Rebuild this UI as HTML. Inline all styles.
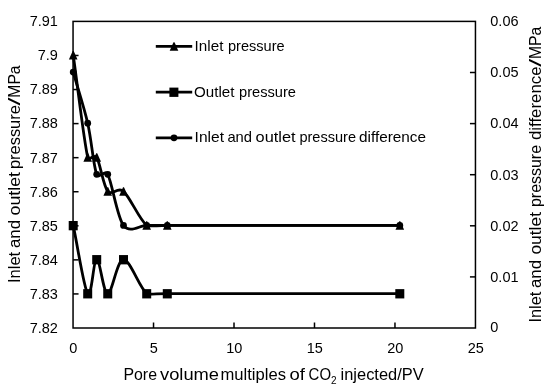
<!DOCTYPE html><html><head><meta charset="utf-8"><title>chart</title><style>html,body{margin:0;padding:0;background:#fff}svg{display:block}text{font-family:"Liberation Sans",sans-serif;fill:#000}</style></head><body>
<svg width="550" height="392" viewBox="0 0 550 392">
<rect width="100%" height="100%" fill="#fff"/>
<g stroke="#000" stroke-width="1.5" fill="none">
<rect x="73.05" y="21.40" width="402.40" height="306.60"/>
<line x1="73.05" y1="293.93" x2="78.55" y2="293.93"/>
<line x1="73.05" y1="259.87" x2="78.55" y2="259.87"/>
<line x1="73.05" y1="225.80" x2="78.55" y2="225.80"/>
<line x1="73.05" y1="191.73" x2="78.55" y2="191.73"/>
<line x1="73.05" y1="157.67" x2="78.55" y2="157.67"/>
<line x1="73.05" y1="123.60" x2="78.55" y2="123.60"/>
<line x1="73.05" y1="89.53" x2="78.55" y2="89.53"/>
<line x1="73.05" y1="55.47" x2="78.55" y2="55.47"/>
<line x1="475.45" y1="276.90" x2="469.95" y2="276.90"/>
<line x1="475.45" y1="225.80" x2="469.95" y2="225.80"/>
<line x1="475.45" y1="174.70" x2="469.95" y2="174.70"/>
<line x1="475.45" y1="123.60" x2="469.95" y2="123.60"/>
<line x1="475.45" y1="72.50" x2="469.95" y2="72.50"/>
<line x1="153.53" y1="328.00" x2="153.53" y2="322.50"/>
<line x1="234.01" y1="328.00" x2="234.01" y2="322.50"/>
<line x1="314.49" y1="328.00" x2="314.49" y2="322.50"/>
<line x1="394.97" y1="328.00" x2="394.97" y2="322.50"/>
</g>
<text x="57.9" y="332.8" font-size="14.5" text-anchor="end">7.82</text>
<text x="57.9" y="298.7" font-size="14.5" text-anchor="end">7.83</text>
<text x="57.9" y="264.7" font-size="14.5" text-anchor="end">7.84</text>
<text x="57.9" y="230.6" font-size="14.5" text-anchor="end">7.85</text>
<text x="57.9" y="196.5" font-size="14.5" text-anchor="end">7.86</text>
<text x="57.9" y="162.5" font-size="14.5" text-anchor="end">7.87</text>
<text x="57.9" y="128.4" font-size="14.5" text-anchor="end">7.88</text>
<text x="57.9" y="94.3" font-size="14.5" text-anchor="end">7.89</text>
<text x="57.9" y="60.3" font-size="14.5" text-anchor="end">7.9</text>
<text x="57.9" y="26.2" font-size="14.5" text-anchor="end">7.91</text>
<text x="490.3" y="332.3" font-size="14.5">0</text>
<text x="490.3" y="281.7" font-size="14.5">0.01</text>
<text x="490.3" y="230.6" font-size="14.5">0.02</text>
<text x="490.3" y="179.5" font-size="14.5">0.03</text>
<text x="490.3" y="128.4" font-size="14.5">0.04</text>
<text x="490.3" y="77.3" font-size="14.5">0.05</text>
<text x="490.3" y="26.2" font-size="14.5">0.06</text>
<text x="73.3" y="353.3" font-size="14.5" text-anchor="middle">0</text>
<text x="153.8" y="353.3" font-size="14.5" text-anchor="middle">5</text>
<text x="234.3" y="353.3" font-size="14.5" text-anchor="middle">10</text>
<text x="314.8" y="353.3" font-size="14.5" text-anchor="middle">15</text>
<text x="395.3" y="353.3" font-size="14.5" text-anchor="middle">20</text>
<text x="475.8" y="353.3" font-size="14.5" text-anchor="middle">25</text>
<text transform="translate(20.2,0) rotate(-90)" y="0" font-size="16"><tspan x="-283.0" textLength="31.2" lengthAdjust="spacingAndGlyphs">Inlet</tspan> <tspan x="-248.0" textLength="28.0" lengthAdjust="spacingAndGlyphs">and</tspan> <tspan x="-215.4" textLength="43.4" lengthAdjust="spacingAndGlyphs">outlet</tspan> <tspan x="-169.0" textLength="63.8" lengthAdjust="spacingAndGlyphs">pressure</tspan><tspan x="-105.4" textLength="8.0" lengthAdjust="spacingAndGlyphs">/</tspan><tspan x="-97.7" textLength="32.3" lengthAdjust="spacingAndGlyphs">MPa</tspan></text>
<text transform="translate(540.8,0) rotate(-90)" y="0" font-size="16"><tspan x="-322.6" textLength="31.0" lengthAdjust="spacingAndGlyphs">Inlet</tspan> <tspan x="-288.0" textLength="28.0" lengthAdjust="spacingAndGlyphs">and</tspan> <tspan x="-254.6" textLength="42.6" lengthAdjust="spacingAndGlyphs">outlet</tspan> <tspan x="-207.0" textLength="62.0" lengthAdjust="spacingAndGlyphs">pressure</tspan> <tspan x="-140.0" textLength="73.5" lengthAdjust="spacingAndGlyphs">difference</tspan><tspan x="-66.7" textLength="8.0" lengthAdjust="spacingAndGlyphs">/</tspan><tspan x="-59.0" textLength="32.3" lengthAdjust="spacingAndGlyphs">MPa</tspan></text>
<text y="379.6" font-size="16"><tspan x="123.4" textLength="33.6" lengthAdjust="spacingAndGlyphs">Pore</tspan> <tspan x="160.0" textLength="59.0" lengthAdjust="spacingAndGlyphs">volume</tspan> <tspan x="220.5" textLength="65.5" lengthAdjust="spacingAndGlyphs">multiples</tspan> <tspan x="289.6" textLength="15.4" lengthAdjust="spacingAndGlyphs">of</tspan> <tspan x="308.6" textLength="22.4" lengthAdjust="spacingAndGlyphs">CO</tspan><tspan x="331" dy="4.4" font-size="10">2</tspan> <tspan x="340.6" dy="-4.4" textLength="83.0" lengthAdjust="spacingAndGlyphs">injected/PV</tspan></text>
<g fill="none" stroke="#000" stroke-width="2.8" stroke-linejoin="round" stroke-linecap="butt">
<path d="M73.21,55.07 C78.04,89.13 83.78,140.23 87.70,157.27 C88.71,161.66 94.43,153.38 96.71,157.27 C100.05,162.94 103.27,185.66 107.74,191.33 C111.82,196.53 117.57,186.14 123.51,191.33 C130.00,197.01 139.39,219.72 146.69,225.40 C148.47,226.79 156.99,225.40 167.29,225.40 C209.48,225.40 322.30,225.40 399.80,225.40"/>
<path d="M73.21,225.40 C78.04,248.11 83.78,287.86 87.70,293.53 C91.61,299.21 93.37,259.47 96.71,259.47 C100.05,259.47 103.27,293.53 107.74,293.53 C112.20,293.53 117.02,259.47 123.51,259.47 C130.00,259.47 139.39,287.86 146.69,293.53 C148.47,294.92 156.99,293.53 167.29,293.53 C209.48,293.53 322.30,293.53 399.80,293.53"/>
<path d="M73.21,72.10 C78.04,89.13 83.78,106.17 87.70,123.20 C91.61,140.23 93.37,165.78 96.71,174.30 C98.72,179.43 105.18,169.42 107.74,174.30 C112.20,182.82 117.02,216.88 123.51,225.40 C130.00,233.92 139.39,225.40 146.69,225.40 C148.47,225.40 156.99,225.40 167.29,225.40 C209.48,225.40 322.30,225.40 399.80,225.40"/>
<line x1="155.8" y1="46.4" x2="192.2" y2="46.4"/>
<line x1="155.8" y1="92.2" x2="192.2" y2="92.2"/>
<line x1="155.8" y1="137.8" x2="192.2" y2="137.8"/>
</g>
<g fill="#000">
<path d="M72.71,50.97 L73.71,50.97 L77.51,59.47 L68.91,59.47 Z"/>
<path d="M87.20,153.17 L88.20,153.17 L92.00,161.67 L83.40,161.67 Z"/>
<path d="M96.21,153.17 L97.21,153.17 L101.01,161.67 L92.41,161.67 Z"/>
<path d="M107.24,187.23 L108.24,187.23 L112.04,195.73 L103.44,195.73 Z"/>
<path d="M123.01,187.23 L124.01,187.23 L127.81,195.73 L119.21,195.73 Z"/>
<path d="M146.19,221.30 L147.19,221.30 L150.99,229.80 L142.39,229.80 Z"/>
<path d="M166.79,221.30 L167.79,221.30 L171.59,229.80 L162.99,229.80 Z"/>
<path d="M399.30,221.30 L400.30,221.30 L404.10,229.80 L395.50,229.80 Z"/>
<rect x="68.71" y="221.00" width="9.00" height="9.30"/>
<rect x="83.20" y="289.13" width="9.00" height="9.30"/>
<rect x="92.21" y="255.07" width="9.00" height="9.30"/>
<rect x="103.24" y="289.13" width="9.00" height="9.30"/>
<rect x="119.01" y="255.07" width="9.00" height="9.30"/>
<rect x="142.19" y="289.13" width="9.00" height="9.30"/>
<rect x="162.79" y="289.13" width="9.00" height="9.30"/>
<rect x="395.30" y="289.13" width="9.00" height="9.30"/>
<circle cx="73.21" cy="72.10" r="3.40"/>
<circle cx="87.70" cy="123.20" r="3.40"/>
<circle cx="96.71" cy="174.30" r="3.40"/>
<circle cx="107.74" cy="174.30" r="3.40"/>
<circle cx="123.51" cy="225.40" r="3.40"/>
<circle cx="146.69" cy="225.40" r="3.40"/>
<circle cx="167.29" cy="225.40" r="3.40"/>
<circle cx="399.80" cy="225.40" r="3.40"/>
<path d="M173.50,42.30 L174.50,42.30 L178.30,50.80 L169.70,50.80 Z"/>
<rect x="169.40" y="87.60" width="9.00" height="9.30"/>
<circle cx="174.00" cy="137.80" r="3.40"/>
</g>
<text y="51.1" font-size="14.5"><tspan x="194.6" textLength="28.8" lengthAdjust="spacingAndGlyphs">Inlet</tspan> <tspan x="228.0" textLength="56.6" lengthAdjust="spacingAndGlyphs">pressure</tspan></text>
<text y="96.5" font-size="14.5"><tspan x="194.0" textLength="40.4" lengthAdjust="spacingAndGlyphs">Outlet</tspan> <tspan x="239.0" textLength="57.0" lengthAdjust="spacingAndGlyphs">pressure</tspan></text>
<text y="142.0" font-size="14.5"><tspan x="194.6" textLength="29.4" lengthAdjust="spacingAndGlyphs">Inlet</tspan> <tspan x="227.4" textLength="24.6" lengthAdjust="spacingAndGlyphs">and</tspan> <tspan x="255.6" textLength="40.0" lengthAdjust="spacingAndGlyphs">outlet</tspan> <tspan x="299.4" textLength="56.6" lengthAdjust="spacingAndGlyphs">pressure</tspan> <tspan x="359.0" textLength="67.0" lengthAdjust="spacingAndGlyphs">difference</tspan></text>
</svg></body></html>
